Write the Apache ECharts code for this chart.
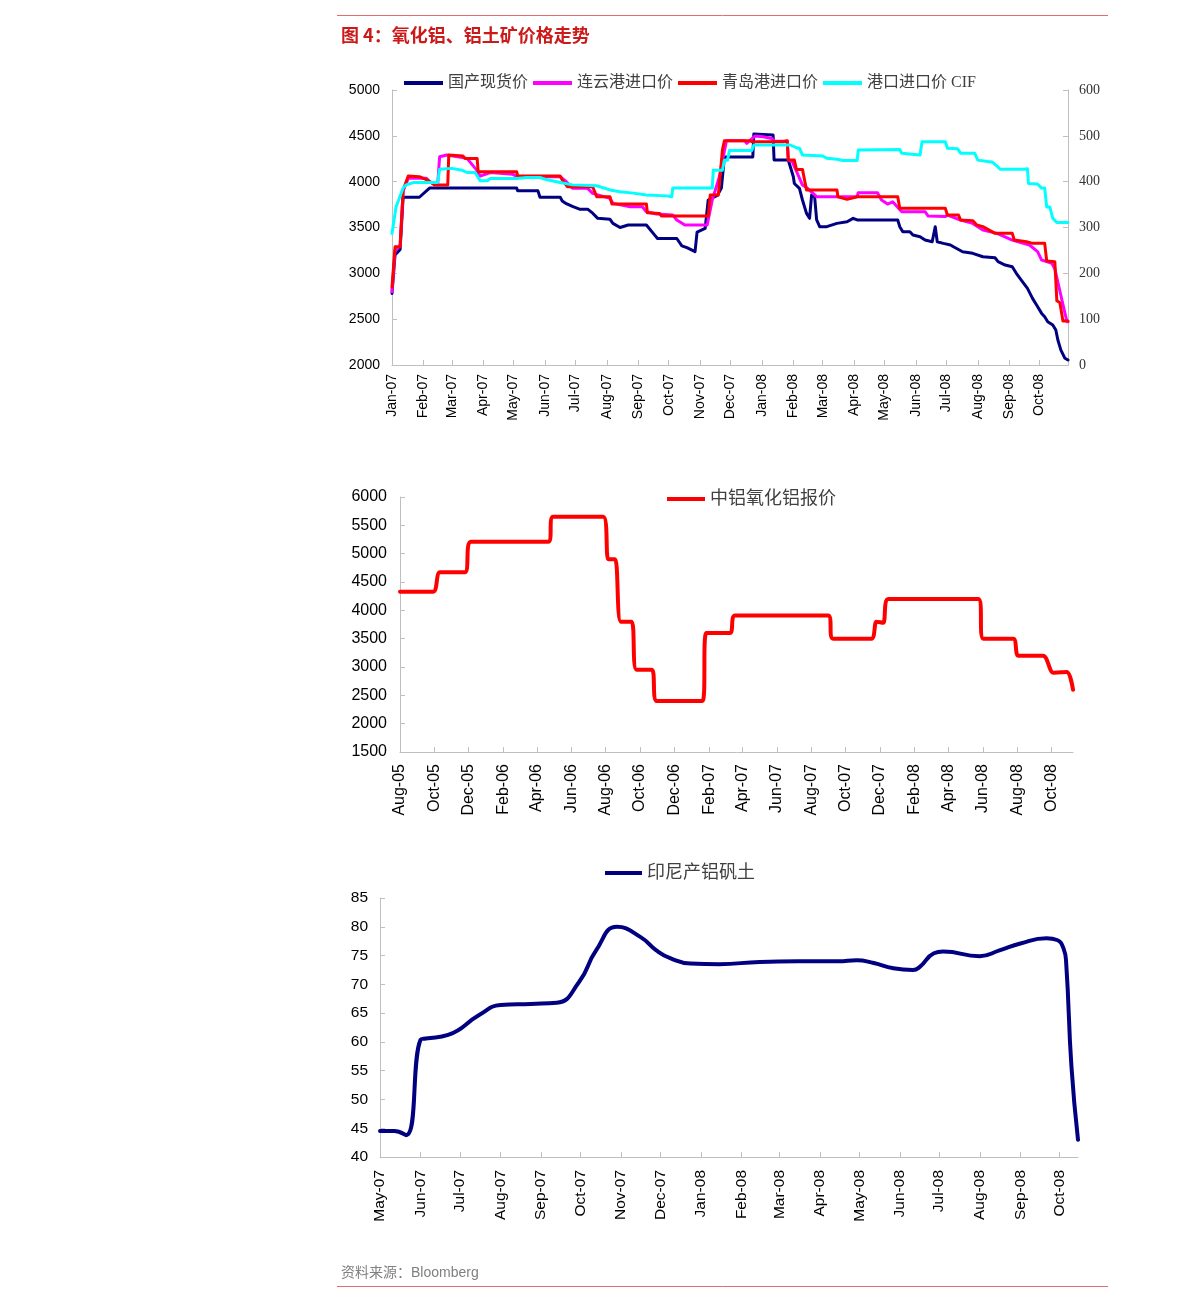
<!DOCTYPE html>
<html>
<head>
<meta charset="utf-8">
<script src="https://cdn.jsdelivr.net/npm/echarts@6/dist/echarts.min.js"></script>
<style>
  html, body { margin: 0; padding: 0; background: #fff; }
  #main { width: 1190px; height: 1300px; }
</style>
</head>
<body>
<div id="main"></div>
<script>
// 刻度标签
const ticks1 = ['Jan-07','Feb-07','Mar-07','Apr-07','May-07','Jun-07','Jul-07','Aug-07','Sep-07','Oct-07','Nov-07','Dec-07',
  'Jan-08','Feb-08','Mar-08','Apr-08','May-08','Jun-08','Jul-08','Aug-08','Sep-08','Oct-08'];
const ticks2 = ['Aug-05','Oct-05','Dec-05','Feb-06','Apr-06','Jun-06','Aug-06','Oct-06','Dec-06','Feb-07','Apr-07','Jun-07',
  'Aug-07','Oct-07','Dec-07','Feb-08','Apr-08','Jun-08','Aug-08','Oct-08'];
const ticks3 = ['May-07','Jun-07','Jul-07','Aug-07','Sep-07','Oct-07','Nov-07','Dec-07','Jan-08','Feb-08','Mar-08','Apr-08',
  'May-08','Jun-08','Jul-08','Aug-08','Sep-08','Oct-08'];

// 图一：国产现货价 (左轴)
const spotChina = [['2007-01-01',2780],['2007-01-04',3200],['2007-01-09',3260],['2007-01-12',3830],['2007-01-28',3830],
  ['2007-02-07',3930],['2007-05-04',3930],['2007-05-05',3900],['2007-05-25',3900],['2007-05-27',3830],['2007-06-16',3830],
  ['2007-06-18',3790],['2007-06-22',3760],['2007-06-28',3730],['2007-07-05',3700],['2007-07-13',3700],['2007-07-18',3656],
  ['2007-07-23',3600],['2007-08-04',3590],['2007-08-07',3545],['2007-08-14',3500],['2007-08-22',3527],['2007-09-09',3527],
  ['2007-09-17',3420],['2007-09-20',3380],['2007-10-09',3380],['2007-10-14',3300],['2007-10-19',3280],['2007-10-27',3236],
  ['2007-10-29',3450],['2007-11-06',3490],['2007-11-09',3800],['2007-11-18',3850],['2007-11-22',3930],['2007-11-25',4270],
  ['2007-12-23',4270],['2007-12-24',4520],['2008-01-12',4510],['2008-01-13',4236],['2008-01-27',4236],['2008-02-01',4054],
  ['2008-02-02',3980],['2008-02-07',3927],['2008-02-10',3800],['2008-02-14',3654],['2008-02-17',3600],['2008-02-19',3854],
  ['2008-02-22',3836],['2008-02-24',3582],['2008-02-27',3509],['2008-03-05',3509],['2008-03-15',3545],['2008-03-25',3563],
  ['2008-03-31',3600],['2008-04-04',3582],['2008-05-14',3582],['2008-05-16',3509],['2008-05-19',3454],['2008-05-26',3454],
  ['2008-05-29',3418],['2008-06-05',3400],['2008-06-10',3363],['2008-06-17',3345],['2008-06-20',3509],['2008-06-22',3345],
  ['2008-06-28',3327],['2008-07-05',3309],['2008-07-08',3290],['2008-07-17',3236],['2008-07-27',3218],['2008-08-06',3181],
  ['2008-08-18',3170],['2008-08-21',3127],['2008-08-28',3090],['2008-09-04',3072],['2008-09-08',3000],['2008-09-14',2909],
  ['2008-09-19',2836],['2008-09-24',2727],['2008-09-28',2654],['2008-10-03',2563],['2008-10-06',2527],['2008-10-09',2472],
  ['2008-10-14',2436],['2008-10-17',2382],['2008-10-19',2273],['2008-10-22',2163],['2008-10-26',2073],['2008-10-29',2054]];

// 连云港进口价 (左轴)
const lianyungang = [['2007-01-01',2800],['2007-01-04',3250],['2007-01-09',3300],['2007-01-12',3900],['2007-01-17',4036],
  ['2007-02-04',4036],['2007-02-07',4000],['2007-02-15',3963],['2007-02-17',4272],['2007-02-24',4290],['2007-03-16',4254],
  ['2007-03-26',4120],['2007-03-29',4060],['2007-04-08',4100],['2007-04-30',4080],['2007-05-05',4054],['2007-06-16',4054],
  ['2007-06-22',4000],['2007-06-28',3927],['2007-07-13',3927],['2007-07-18',3872],['2007-08-04',3818],['2007-08-07',3763],
  ['2007-08-24',3727],['2007-09-05',3727],['2007-09-09',3672],['2007-09-19',3647],['2007-10-05',3636],['2007-10-09',3582],
  ['2007-10-17',3527],['2007-11-08',3527],['2007-11-13',3800],['2007-11-18',3981],['2007-11-20',4054],['2007-11-27',4447],
  ['2007-12-15',4447],['2007-12-17',4418],['2007-12-25',4498],['2008-01-02',4490],['2008-01-11',4472],['2008-01-13',4440],
  ['2008-01-26',4440],['2008-01-27',4236],['2008-01-31',4218],['2008-02-02',4163],['2008-02-05',4090],['2008-02-10',3963],
  ['2008-02-15',3927],['2008-02-24',3836],['2008-04-04',3836],['2008-04-05',3880],['2008-04-24',3880],['2008-04-28',3800],
  ['2008-05-04',3756],['2008-05-09',3780],['2008-05-18',3672],['2008-06-10',3672],['2008-06-13',3625],['2008-06-30',3620],
  ['2008-07-02',3636],['2008-07-15',3582],['2008-07-27',3545],['2008-08-06',3472],['2008-08-20',3436],['2008-09-04',3363],
  ['2008-09-21',3309],['2008-09-29',3236],['2008-10-03',3145],['2008-10-08',3127],['2008-10-13',3109],['2008-10-16',3050],
  ['2008-10-23',2709],['2008-10-28',2472],['2008-10-29',2472]];

// 青岛港进口价 (左轴)
const qingdao = [['2007-01-01',2850],['2007-01-04',3290],['2007-01-09',3290],['2007-01-12',3909],['2007-01-17',4061],
  ['2007-01-28',4054],['2007-02-05',4018],['2007-02-12',3963],['2007-02-25',3963],['2007-02-26',4290],['2007-03-12',4280],
  ['2007-03-14',4254],['2007-03-26',4254],['2007-03-27',4109],['2007-05-04',4109],['2007-05-05',4061],['2007-06-16',4061],
  ['2007-06-18',4018],['2007-06-23',3945],['2007-07-18',3945],['2007-07-20',3890],['2007-07-22',3836],['2007-08-04',3836],
  ['2007-08-06',3756],['2007-09-09',3756],['2007-09-10',3661],['2007-09-22',3654],['2007-09-24',3625],['2007-11-09',3625],
  ['2007-11-11',3854],['2007-11-19',3854],['2007-11-23',4345],['2007-11-25',4447],['2007-12-20',4447],['2007-12-22',4436],
  ['2008-01-22',4436],['2008-01-26',4447],['2008-01-27',4236],['2008-02-02',4236],['2008-02-04',4134],['2008-02-10',4134],
  ['2008-02-14',3909],['2008-03-15',3909],['2008-03-16',3836],['2008-03-25',3807],['2008-04-04',3836],['2008-05-14',3836],
  ['2008-05-16',3709],['2008-06-30',3709],['2008-07-02',3636],['2008-07-13',3636],['2008-07-15',3582],['2008-07-27',3575],
  ['2008-07-31',3527],['2008-08-06',3509],['2008-08-18',3436],['2008-09-04',3436],['2008-09-06',3363],['2008-09-18',3345],
  ['2008-09-24',3327],['2008-10-06',3327],['2008-10-08',3135],['2008-10-16',3127],['2008-10-18',2700],['2008-10-21',2680],
  ['2008-10-24',2480],['2008-10-29',2480]];

// 港口进口价 CIF (右轴)
const portCif = [['2007-01-01',287],['2007-01-05',345],['2007-01-12',386],['2007-01-15',393],['2007-01-22',398],
  ['2007-02-15',398],['2007-02-17',427],['2007-03-01',429],['2007-03-11',425],['2007-03-16',420],['2007-03-24',420],
  ['2007-03-29',402],['2007-04-05',402],['2007-04-08',407],['2007-05-04',407],['2007-05-14',409],['2007-05-27',409],
  ['2007-06-03',404],['2007-06-16',398],['2007-06-28',393],['2007-07-22',391],['2007-08-04',382],['2007-08-14',378],
  ['2007-08-27',375],['2007-09-09',371],['2007-09-29',369],['2007-10-04',367],['2007-10-05',386],['2007-11-13',386],
  ['2007-11-14',425],['2007-11-23',425],['2007-11-25',447],['2007-11-28',447],['2007-11-30',468],['2007-12-22',468],
  ['2007-12-24',480],['2008-01-29',480],['2008-02-05',473],['2008-02-07',473],['2008-02-10',458],['2008-03-01',456],
  ['2008-03-05',451],['2008-03-15',449],['2008-03-21',446],['2008-04-04',446],['2008-04-05',469],['2008-05-16',470],
  ['2008-05-18',462],['2008-06-05',458],['2008-06-07',487],['2008-06-30',487],['2008-07-02',473],['2008-07-12',472],
  ['2008-07-15',462],['2008-07-29',462],['2008-08-01',447],['2008-08-11',444],['2008-08-15',443],['2008-08-20',434],
  ['2008-08-23',427],['2008-09-16',427],['2008-09-19',428],['2008-09-20',396],['2008-09-29',395],['2008-10-03',386],
  ['2008-10-06',386],['2008-10-08',345],['2008-10-11',345],['2008-10-14',320],['2008-10-18',311],['2008-10-29',311]];

// 图二：中铝氧化铝报价
const chalcoQuote = [['2005-08-01',4330],['2005-09-29',4330],['2005-10-11',4670],['2005-11-24',4670],['2005-12-05',5210],
  ['2006-04-21',5210],['2006-04-30',5650],['2006-07-28',5650],['2006-08-06',4900],['2006-08-18',4900],['2006-08-28',3800],
  ['2006-09-16',3800],['2006-09-25',2950],['2006-10-22',2950],['2006-10-31',2400],['2007-01-20',2400],['2007-01-27',3600],
  ['2007-03-10',3600],['2007-03-19',3910],['2007-08-31',3910],['2007-09-09',3500],['2007-11-16',3500],['2007-11-25',3800],
  ['2007-12-07',3780],['2007-12-16',4200],['2008-05-24',4200],['2008-06-02',3500],['2008-07-25',3500],['2008-08-03',3200],
  ['2008-09-16',3200],['2008-10-04',2900],['2008-10-28',2910],['2008-11-08',2600]];

// 图三：印尼产铝矾土
const indoBauxite = [['2007-05-01',44.5],['2007-05-12',44.5],['2007-05-21',43.8],['2007-06-01',60.4],['2007-06-05',60.6],
  ['2007-06-22',61.2],['2007-07-16',64.7],['2007-08-01',66.4],['2007-08-24',66.6],['2007-09-13',66.8],['2007-09-30',70.4],
  ['2007-10-13',75.9],['2007-10-29',80.0],['2007-11-16',78.2],['2007-11-28',75.9],['2007-12-09',74.5],['2007-12-24',73.6],
  ['2008-01-15',73.5],['2008-02-15',73.9],['2008-03-15',74.0],['2008-04-15',74.0],['2008-04-29',74.2],['2008-05-12',73.7],
  ['2008-05-27',72.8],['2008-06-11',72.5],['2008-06-16',73.0],['2008-06-27',75.4],['2008-07-04',75.7],['2008-08-01',74.9],
  ['2008-08-16',75.9],['2008-09-01',77.1],['2008-09-21',78.0],['2008-09-29',77.7],['2008-10-04',76.2],['2008-10-06',73.6],
  ['2008-10-10',55.7],['2008-10-15',43.0]];

const MON = ['Jan','Feb','Mar','Apr','May','Jun','Jul','Aug','Sep','Oct','Nov','Dec'];
function tickTime(s) {
  const p = s.split('-');
  return Date.UTC(2000 + Number(p[1]), MON.indexOf(p[0]), 1);
}
function day(s) {
  const p = s.split('-');
  return Date.UTC(+p[0], +p[1] - 1, +p[2]);
}

const AXIS_GRAY = '#bfbfbf';
const SANS = "'Liberation Sans', Arial, sans-serif";
const SERIF = "'Liberation Serif', 'Noto Sans CJK SC', serif";

// 横轴用数值轴(时间戳)，刻度放在每个月初
function dateAxis(gridIndex, ticks, min, max, fontSize, margin) {
  const vals = ticks.map(tickTime);
  const names = {};
  ticks.forEach((t, i) => { names[vals[i]] = t; });
  return {
    type: 'value', gridIndex: gridIndex, min: day(min), max: day(max), scale: true,
    axisLine: { show: true, onZero: false, lineStyle: { color: AXIS_GRAY, width: 1 } },
    axisTick: { show: true, inside: true, length: 5, customValues: vals, lineStyle: { color: AXIS_GRAY } },
    axisLabel: {
      customValues: vals, rotate: 90, margin: margin, fontSize: fontSize, color: '#000', fontFamily: SANS,
      formatter: function (v) { return names[v] || ''; }
    },
    splitLine: { show: false }
  };
}
function valueAxis(gridIndex, min, max, interval, fontSize, margin, position, fontFamily, color) {
  return {
    type: 'value', gridIndex: gridIndex, min: min, max: max, interval: interval, position: position || 'left',
    axisLine: { show: true, onZero: false, lineStyle: { color: AXIS_GRAY, width: 1 } },
    axisTick: { show: true, inside: true, length: 5, lineStyle: { color: AXIS_GRAY } },
    axisLabel: { fontSize: fontSize, margin: margin, color: color || '#000', fontFamily: fontFamily || SANS,
      formatter: function (v) { return String(v); } },
    splitLine: { show: false }
  };
}
function lineSeries(name, data, color, width, xi, yi, smooth) {
  return {
    name: name, type: 'line', xAxisIndex: xi, yAxisIndex: yi, symbol: 'none', smooth: smooth || false,
    data: data.map(d => [day(d[0]), d[1]]),
    color: color,
    lineStyle: { color: color, width: width, cap: 'round', join: 'round' },
    emphasis: { disabled: true }
  };
}

const myChart = echarts.init(document.getElementById('main'));
myChart.setOption({
  animation: false,
  grid: [
    { left: 392, top: 90, width: 676, height: 275 },
    { left: 400, top: 497, width: 673, height: 255 },
    { left: 380, top: 898, width: 698, height: 259 }
  ],
  legend: [
    { data: ['国产现货价', '连云港进口价', '青岛港进口价', '港口进口价 CIF'], left: 404, top: 75, padding: 0,
      itemWidth: 39, itemHeight: 4, itemGap: 5, icon: 'rect',
      textStyle: { fontSize: 16, color: '#404040', fontFamily: SERIF } },
    { data: ['中铝氧化铝报价'], left: 667, top: 490, padding: 0, itemWidth: 38, itemHeight: 4, icon: 'rect',
      textStyle: { fontSize: 18, color: '#404040', fontFamily: SERIF } },
    { data: ['印尼产铝矾土'], left: 605, top: 864, padding: 0, itemWidth: 37, itemHeight: 4, icon: 'rect',
      textStyle: { fontSize: 18, color: '#404040', fontFamily: SERIF } }
  ],
  xAxis: [
    dateAxis(0, ticks1, '2007-01-01', '2008-10-29', 14, 9),
    dateAxis(1, ticks2, '2005-08-01', '2008-11-08', 16, 12),
    dateAxis(2, ticks3, '2007-05-01', '2008-10-15', 15.5, 13)
  ],
  yAxis: [
    valueAxis(0, 2000, 5000, 500, 14, 12),
    valueAxis(0, 0, 600, 100, 14, 11, 'right', "'Liberation Serif', serif", '#333'),
    valueAxis(1, 1500, 6000, 500, 16, 13),
    valueAxis(2, 40, 85, 5, 15.5, 12)
  ],
  series: [
    lineSeries('国产现货价', spotChina, '#000080', 3, 0, 0),
    lineSeries('连云港进口价', lianyungang, '#ff00ff', 3, 0, 0),
    lineSeries('青岛港进口价', qingdao, '#ff0000', 3, 0, 0),
    lineSeries('港口进口价 CIF', portCif, '#00ffff', 3, 0, 1),
    lineSeries('中铝氧化铝报价', chalcoQuote, '#ff0000', 4, 1, 2, 0.3),
    lineSeries('印尼产铝矾土', indoBauxite, '#000080', 4, 2, 3, 0.5)
  ],
  graphic: [
    { type: 'line', shape: { x1: 337, y1: 15.5, x2: 1108, y2: 15.5 }, style: { stroke: '#e46c6c', lineWidth: 1 } },
    { type: 'text', style: { x: 341, y: 35, text: '图 4：氧化铝、铝土矿价格走势', verticalAlign: 'middle',
      fill: '#cc1a1a', fontSize: 18, fontWeight: 'bold', fontFamily: "'Noto Sans CJK SC', sans-serif" } },
    { type: 'text', style: { x: 341, y: 1273, text: '资料来源：Bloomberg', verticalAlign: 'middle',
      fill: '#808080', fontSize: 14, fontFamily: "'Liberation Sans', 'Noto Sans CJK SC', sans-serif" } },
    { type: 'line', shape: { x1: 337, y1: 1286.5, x2: 1108, y2: 1286.5 }, style: { stroke: '#e46c6c', lineWidth: 1 } }
  ]
});
window.onresize = function () {
  myChart.resize();
};
</script>
</body>
</html>
